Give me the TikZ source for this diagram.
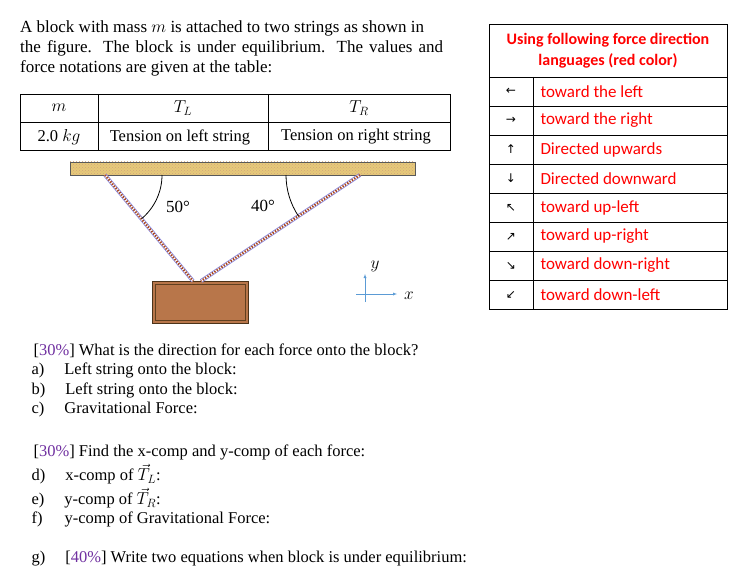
\documentclass[tikz,border=0pt]{standalone}
\usepackage{fontspec}
\setmainfont{Liberation Serif}
\newfontfamily\carl{Carlito}
\newfontfamily\dvs{DejaVu Sans}
\usetikzlibrary{patterns}
\definecolor{pur}{HTML}{7030A0}
\definecolor{redc}{HTML}{FF0000}
\definecolor{wood}{HTML}{B8764A}
\definecolor{ceil}{HTML}{E6C97A}
\definecolor{axb}{HTML}{5B9BD5}
\tikzset{cell/.style={font=\fontsize{16.5}{18}\selectfont},
rcell/.style={font=\carl\fontsize{17}{19}\selectfont,text=redc,anchor=west},
sym/.style={font=\dvs\fontsize{12}{14}\selectfont},
q/.style={anchor=west,font=\fontsize{16.5}{18}\selectfont},
rope/.style={line width=3.8pt,draw=gray!40!blue!60},
ropew/.style={line width=2.2pt,draw=white},
ropei/.style={line width=2.2pt,draw=brown!70!red!80!black,dash pattern=on 1.4pt off 1.4pt}}
\begin{document}
\begin{tikzpicture}[x=1pt,y=-1pt]
\useasboundingbox (0,0) rectangle (735,580);
\node[anchor=north west,text width=423,align=justify,inner sep=0,font=\fontsize{17}{19.6}\selectfont] (para) at (20,21)
{A block with mass $m$ is attached to two strings as shown in\\ the figure. The block is under equilibrium. The values and force notations are given at the table:};
% left table
\draw (20,94) rectangle (450,150) (20,122)--(450,122) (98,94)--(98,150) (268,94)--(268,150);
\node[cell] (m) at (59,108) {$m$};
\node[cell] (tl) at (183,108) {$T_L$};
\node[cell] (tr) at (359,108) {$T_R$};
\node[cell] (kg) at (59,137) {2.0 $kg$};
\node[cell] (tls) at (180,137) {Tension on left string};
\node[cell] (trs) at (356,137) {Tension on right string};
% ceiling
\fill[ceil] (70,162) rectangle (415,175);
\fill[pattern=crosshatch dots,pattern color=brown!70] (70,162) rectangle (415,175);
\draw[gray!70!black] (70,162) rectangle (415,175);
% block
\node[draw=brown!40!black,fill=wood,minimum width=96,minimum height=42,inner sep=0] (blk) at (200,302) {};
\draw[brown!50!black] (155,284) rectangle (245,320);
\coordinate (lt) at (105,175); \coordinate (rt) at (360,175);
\coordinate (lb) at (193,281); \coordinate (rb) at (201,281);
\foreach \a/\b in {lt/lb,rt/rb}{\draw[rope] (\a)--(\b); \draw[ropew] (\a)--(\b); \draw[ropei] (\a)--(\b);}
% angles
\draw[thick] (162,175) arc (0:50:57);
\draw[thick] (286,175) arc (180:146:74);
\node[cell,font=\fontsize{17}{19}\selectfont] (a50) at (178,207) {50°};
\node[cell,font=\fontsize{17}{19}\selectfont] (a40) at (263,206) {40°};
% axes
\draw[axb,-latex] (356,294)--(397,294);
\draw[axb,-latex] (365,302)--(365,274);
\node[cell] (yl) at (375,266) {$y$};
\node[cell] (xl) at (409,296) {$x$};
% questions
\node[q] (q1) at (30,351) {[{\color{pur}30\%}] What is the direction for each force onto the block?};
\node[q] (qa) at (28,370) {a)\hspace{20pt}Left string onto the block:};
\node[q] (qb) at (28,390) {b)\hspace{20pt}Left string onto the block:};
\node[q] (qc) at (28,410) {c)\hspace{20pt}Gravitational Force:};
\node[q] (q2) at (30,452) {[{\color{pur}30\%}] Find the x-comp and y-comp of each force:};
\node[q] (qd) at (28,474) {d)\hspace{20pt}x-comp of $\vec{T}_L$:};
\node[q] (qe) at (28,498) {e)\hspace{20pt}y-comp of $\vec{T}_R$:};
\node[q] (qf) at (28,519) {f)\hspace{22pt}y-comp of Gravitational Force:};
\node[q] (qg) at (28,559) {g)\hspace{20pt}[{\color{pur}40\%}] Write two equations when block is under equilibrium:};
% right table
\draw (489,24) rectangle (727,309);
\foreach \y in {77,106,135,164,193,222,251,280} \draw (489,\y)--(727,\y);
\draw (533,77)--(533,309);
\node[font=\carl\bfseries\fontsize{16}{21}\selectfont,text=redc,align=center] (hd) at (608,51) {Using following force direction\\languages (red color)};
\foreach \s/\t [count=\i] in {←/toward the left,→/toward the right,↑/Directed upwards,↓/Directed downward,↖/toward up-left,↗/toward up-right,↘/toward down-right,↙/toward down-left}{
 \node[sym] (s\i) at (511,{77+29*\i-14.5}) {\s};
 \node[rcell] (t\i) at (537,{77+29*\i-14.5}) {\t};}
\end{tikzpicture}
\end{document}
